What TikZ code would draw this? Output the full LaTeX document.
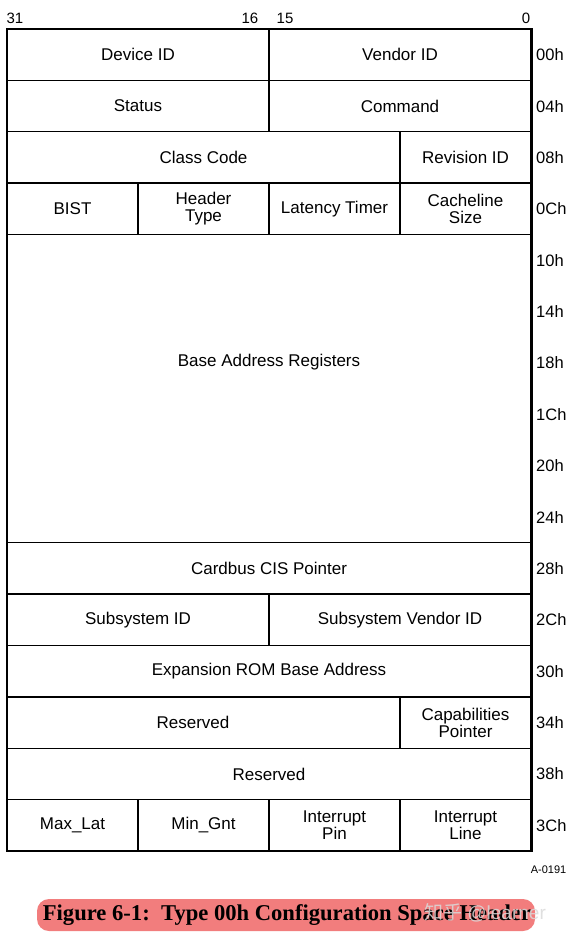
\documentclass[tikz,border=0pt]{standalone}
\usepackage{fontspec}
\setmainfont{Liberation Sans}
\newfontfamily\capfont{Liberation Serif}
\newfontfamily\cjk{Noto Sans CJK SC}
\definecolor{capred}{RGB}{242,125,125}
\begin{document}
\begin{tikzpicture}[x=1pt,y=-1pt,
  cell/.style={draw, line width=1.2pt, rectangle, inner sep=0pt, align=center,
    font=\fontsize{17}{17}\selectfont, minimum height=51.375pt},
  w1/.style={minimum width=131pt},
  w2/.style={minimum width=262pt},
  w3/.style={minimum width=393pt},
  w4/.style={minimum width=524pt},
  off/.style={anchor=west, inner sep=0pt, font=\fontsize{16.5}{16.5}\selectfont},
  bit/.style={inner sep=0pt, font=\fontsize{15}{15}\selectfont, anchor=base},
  lbl/.style={inner sep=0pt, align=center, font=\fontsize{17}{17}\selectfont}]
\useasboundingbox (0,0) rectangle (574,938);
% row 0
\node[cell,w2] (dev) at (138,54.7) {Device ID};
\node[cell,w2] (ven) at (400,54.7) {Vendor ID};
% row 1
\node[cell,w2] (sta) at (138,106.1) {Status};
\node[cell,w2] (cmd) at (400,106.1) {Command};
% row 2
\node[cell,w3] (cls) at (203.5,157.4) {Class Code};
\node[cell,w1] (rev) at (465.5,157.4) {Revision ID};
% row 3
\node[cell,w1] (bist) at (72.5,208.8) {BIST};
\node[cell,w1] (hdr) at (203.5,208.8) {Header\\Type};
\node[cell,w1] (lat) at (334.5,208.8) {Latency Timer};
\node[cell,w1] (cache) at (465.5,208.8) {Cacheline\\Size};
% BAR
\node[cell,w4,minimum height=308.25pt] (bar) at (269,388.6) {};
\node[lbl] (barl) at (269,362.5) {Base Address Registers};
% row 10
\node[cell,w4] (cis) at (269,568.4) {Cardbus CIS Pointer};
% row 11
\node[cell,w2] (ssid) at (138,619.8) {Subsystem ID};
\node[cell,w2] (ssvid) at (400,619.8) {Subsystem Vendor ID};
% row 12
\node[cell,w4] (rom) at (269,671.2) {Expansion ROM Base Address};
% row 13
\node[cell,w3] (res1) at (203.5,722.6) {};
\node[lbl] (res1l) at (193,722.6) {Reserved};
\node[cell,w1] (cap) at (465.5,722.6) {Capabilities\\Pointer};
% row 14
\node[cell,w4] (res2) at (269,774) {Reserved};
% row 15
\node[cell,w1] (maxl) at (72.5,825.3) {Max\_Lat};
\node[cell,w1] (ming) at (203.5,825.3) {Min\_Gnt};
\node[cell,w1] (ipin) at (334.5,825.3) {Interrupt\\Pin};
\node[cell,w1] (iline) at (465.5,825.3) {Interrupt\\Line};
% outer frame
\draw[line width=1.8pt] (dev.north west) rectangle (iline.south east);
% bit numbers
\node[bit] (b31) at (15,23) {31};
\node[bit] (b16) at (250,23) {16};
\node[bit] (b15) at (285,23) {15};
\node[bit] (b0) at (526,23) {0};
% offsets
\node[off] (o00) at (536,54.7) {00h};
\node[off] (o04) at (536,106.1) {04h};
\node[off] (o08) at (536,157.4) {08h};
\node[off] (o0C) at (536,208.8) {0Ch};
\node[off] (o10) at (536,260.2) {10h};
\node[off] (o14) at (536,311.6) {14h};
\node[off] (o18) at (536,362.9) {18h};
\node[off] (o1C) at (536,414.3) {1Ch};
\node[off] (o20) at (536,465.7) {20h};
\node[off] (o24) at (536,517.1) {24h};
\node[off] (o28) at (536,568.4) {28h};
\node[off] (o2C) at (536,619.8) {2Ch};
\node[off] (o30) at (536,671.2) {30h};
\node[off] (o34) at (536,722.6) {34h};
\node[off] (o38) at (536,774) {38h};
\node[off] (o3C) at (536,825.3) {3Ch};
% figure id
\node[inner sep=0pt, font=\fontsize{11}{11}\selectfont] (aid) at (548.5,870) {A-0191};
% caption
\fill[capred, rounded corners=12pt] (37,899) rectangle (535,931);
\node[inner sep=0pt, font=\capfont\bfseries\fontsize{22.6}{22.6}\selectfont] (cap) at (287,915) {Figure 6-1:\ \ Type 00h Configuration Space Header};
\node[inner sep=0pt, text=gray!30, opacity=0.85, font=\fontsize{19}{19}\selectfont] (wm) at (485,913) {{\cjk 知乎} @learner};
\end{tikzpicture}
\end{document}
